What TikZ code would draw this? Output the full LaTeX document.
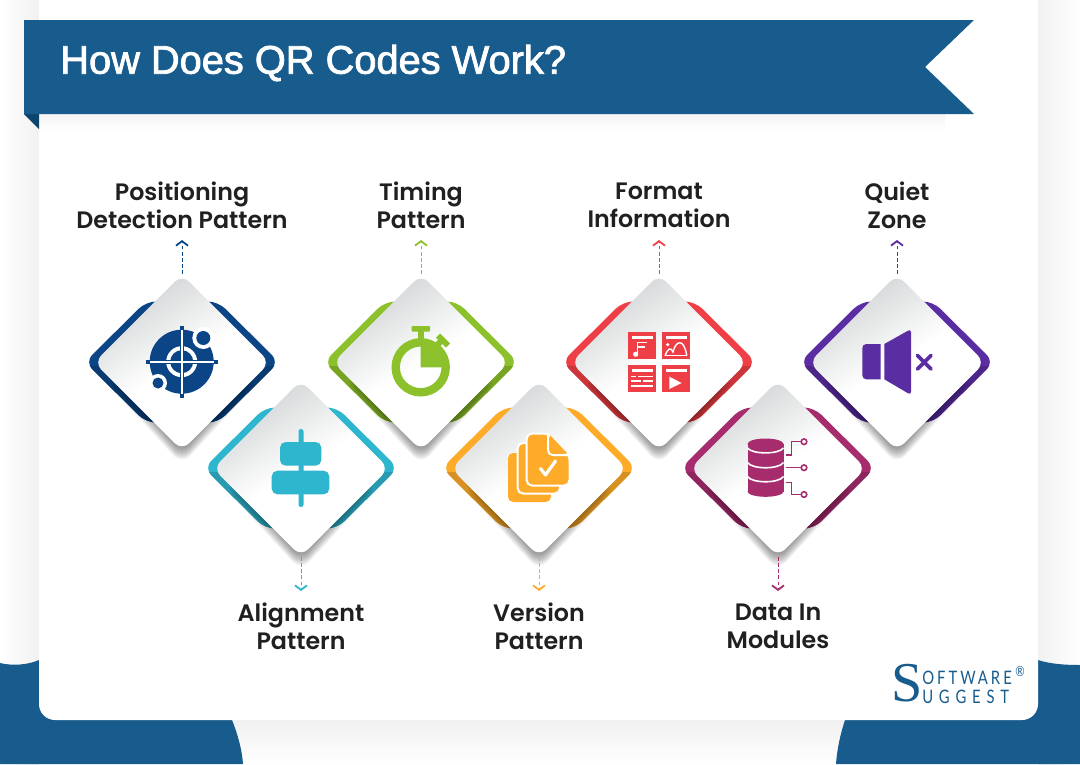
\documentclass[tikz,border=0pt]{standalone}
\usepackage{fontspec}
\setmainfont{Liberation Sans}
\newfontfamily\titlefont[RawFeature={embolden=2}]{Liberation Sans}
\newfontfamily\labelfont{Poppins SemiBold}
\newfontfamily\logotopfont[FakeStretch=0.8, LetterSpace=16]{Lato}
\newfontfamily\logobotfont[FakeStretch=0.8, LetterSpace=31]{Lato}
\newfontfamily\logosfont{Liberation Serif}
\definecolor{bandblue}{RGB}{24, 92, 141}
\definecolor{folddark}{RGB}{13, 68, 110}
\definecolor{posnavy}{RGB}{11, 69, 133}
\definecolor{aligncyan}{RGB}{47, 182, 207}
\definecolor{timegreen}{RGB}{141, 193, 43}
\definecolor{verorange}{RGB}{253, 171, 40}
\definecolor{fmtred}{RGB}{238, 63, 70}
\definecolor{datarose}{RGB}{167, 44, 110}
\definecolor{quietviolet}{RGB}{91, 45, 163}
\definecolor{sidegray}{RGB}{241, 241, 241}
\definecolor{tilegray}{RGB}{208, 211, 212}
\definecolor{textdark}{RGB}{32, 32, 34}
\usetikzlibrary{shapes.geometric, arrows.meta, positioning}

\tikzset{
  qrtile/.style={diamond, shape aspect=1, minimum width=4.4cm, minimum height=4.4cm, inner sep=0pt,
    rounded corners=0.25cm, top color=tilegray, bottom color=white, middle color=white, shading angle=32},
  qrlabel/.style={font=\labelfont\fontsize{16.9}{20.1}\selectfont, text=textdark, align=center, inner sep=0pt,
    execute at begin node=\rule{0pt}{15pt}, execute at end node=\rule[-5pt]{0pt}{0pt}},
  qrlink/.style={dash pattern=on 2.8pt off 1.6pt, line width=0.7pt, -{Straight Barb[length=3.2pt, width=8.5pt, line width=1.3pt]}},
}

\newcommand{\qrhex}{(-97,0) -- (-36,-60.5) -- (36,-60.5) -- (97,0) -- (36,60.5) -- (-36,60.5) -- cycle}
% frame band and soft shadow behind one tile
\newcommand{\qrframe}[3]{
  \begin{scope}[shift={(#1,#2)}]
    \fill[#3, rounded corners=0.25cm] \qrhex;
    \begin{scope}
      \clip (-100,4) rectangle (100,70);
      \fill[#3!85!black, rounded corners=0.25cm] \qrhex;
    \end{scope}
    \foreach \s in {0,...,9}
      \fill[black, opacity=0.045, rounded corners=0.3cm] ({-62-1.6*\s},20) -- (0,{-52-1.2*\s}) -- ({62+1.6*\s},20) -- (0,{92+1.2*\s}) -- cycle;
  \end{scope}
}

\begin{document}
\begin{tikzpicture}[x=0.025cm, y=-0.025cm]
  \useasboundingbox (0,0) rectangle (1080,764);

  % Page and card
  \shade[left color=white, right color=sidegray] (0,0) rectangle (39,764);
  \shade[left color=sidegray, right color=white] (1038,0) rectangle (1080,764);
  \shade[top color=sidegray, bottom color=white] (39,720) rectangle (1038,764);
  \fill[bandblue] (0,663) .. controls (12,666) and (28,665) .. (39,660) -- (60,660) -- (60,720) -- (232,720) .. controls (238,735) and (242,750) .. (243,764) -- (0,764) -- cycle;
  \fill[bandblue] (1038,660) .. controls (1050,664) and (1065,665) .. (1080,665) -- (1080,764) -- (836,764) .. controls (837,750) and (840,735) .. (845,720) -- (1020,720) -- (1020,660) -- cycle;
  \fill[white, rounded corners=0.4cm] (39,-30) rectangle (1038,720);

  % Title band
  \shade[top color=black!4, bottom color=white] (39,114) rectangle (945,132);
  \fill[folddark] (24,114) -- (39,114) -- (39,129) -- cycle;
  \fill[bandblue] (24,20) -- (974,20) -- (925,67) -- (974,114) -- (24,114) -- cycle;
  \node[font=\titlefont\fontsize{28.3}{30}\selectfont, text=white, anchor=west, inner sep=0pt] (title) at (60,63) {How Does QR Codes Work?};

  % Tiles
  \qrframe{182}{362}{posnavy}
  \node[qrtile] (posbox) at (182,362.5) {};
  \qrframe{301}{468}{aligncyan}
  \node[qrtile] (alignbox) at (301,468.5) {};
  \qrframe{421}{362}{timegreen}
  \node[qrtile] (timebox) at (421,362.5) {};
  \qrframe{539}{468}{verorange}
  \node[qrtile] (verbox) at (539,468.5) {};
  \qrframe{659}{362}{fmtred}
  \node[qrtile] (fmtbox) at (659,362.5) {};
  \qrframe{778}{468}{datarose}
  \node[qrtile] (databox) at (778,468.5) {};
  \qrframe{897}{362}{quietviolet}
  \node[qrtile] (quietbox) at (897,362.5) {};

  % Labels
  \node[qrlabel] (poslabel) at (182,209) {Positioning\\Detection Pattern};
  \node[qrlabel] (timelabel) at (421,209) {Timing\\Pattern};
  \node[qrlabel] (fmtlabel) at (659,209) {Format\\Information};
  \node[qrlabel] (quietlabel) at (897,209) {Quiet\\Zone};
  \node[qrlabel] (alignlabel) at (301,630) {Alignment\\Pattern};
  \node[qrlabel] (verlabel) at (539,630) {Version\\Pattern};
  \node[qrlabel] (datalabel) at (778,630) {Data In\\Modules};

  % Dashed links
  \coordinate (posend) at (182,240);
  \coordinate (timeend) at (421,240);
  \coordinate (fmtend) at (659,240);
  \coordinate (quietend) at (897,240);
  \coordinate (alignend) at (301,591);
  \coordinate (verend) at (539,591);
  \coordinate (dataend) at (778,591);
  \draw[qrlink, posnavy] (posbox.north) -- (posend);
  \draw[qrlink, timegreen] (timebox.north) -- (timeend);
  \draw[qrlink, fmtred] (fmtbox.north) -- (fmtend);
  \draw[qrlink, quietviolet] (quietbox.north) -- (quietend);
  \draw[qrlink, aligncyan] (alignbox.south) -- (alignend);
  \draw[qrlink, verorange] (verbox.south) -- (verend);
  \draw[qrlink, datarose] (databox.south) -- (dataend);

  % Positioning icon
  \fill[posnavy] (181.7,361.7) circle (32);
  \fill[white] (203.3,338) circle (11);
  \fill[posnavy] (203.3,338) circle (7);
  \fill[white] (158,383) circle (9);
  \fill[posnavy] (158,383) circle (5.5);
  \fill[white] (181.7,361.7) circle (15.5);
  \fill[posnavy] (181.7,361.7) circle (11.5);
  \fill[posnavy] (145.7,359.7) rectangle (217.7,363.7);
  \fill[posnavy] (179.7,325.7) rectangle (183.7,397.7);
  \fill[white] (149.7,360.5) rectangle (213.7,362.9);
  \fill[white] (180.5,329.7) rectangle (182.9,393.7);

  % Alignment icon
  \fill[aligncyan, rounded corners=0.06cm] (298.5,429) rectangle (303.5,507);
  \fill[aligncyan, rounded corners=0.14cm] (280,442) rectangle (321.3,465.7);
  \fill[aligncyan, rounded corners=0.14cm] (271.7,470.7) rectangle (329.3,494.3);

  % Timing icon
  \draw[timegreen, line width=0.21cm] (420.7,367.3) circle (25);
  \fill[timegreen] (420.7,367.3) -- (420.7,342.3) arc[start angle=-90, delta angle=90, radius=25] -- cycle;
  \fill[timegreen] (417.7,328) rectangle (423.7,340);
  \fill[timegreen, rounded corners=0.02cm] (411.7,326) rectangle (430,331.5);
  \draw[timegreen, line width=0.15cm] (434,348) -- (441,341);
  \draw[timegreen, line width=0.15cm] (438,335.5) -- (448,345.5);

  % Version icon
  \fill[verorange, rounded corners=0.13cm] (508,453) rectangle (551,502);
  \filldraw[verorange, draw=white, line width=0.05cm, rounded corners=0.13cm] (517.7,443) rectangle (560,493.5);
  \filldraw[verorange, draw=white, line width=0.05cm, rounded corners=0.13cm] (526.7,433.5) -- (548,433.5) -- (569.5,455) -- (569.5,485.5) -- (526.7,485.5) -- cycle;
  \draw[white, line width=0.05cm, rounded corners=0.12cm] (548,433) -- (548,455) -- (570,455);
  \fill[verorange] (550,435) -- (567,453) -- (550,453) -- cycle;
  \draw[white, line width=0.08cm, line cap=round, line join=round] (540.5,468.5) -- (545.5,475) -- (555.5,461);

  % Format icon
  \fill[fmtred] (628.3,331.7) rectangle (656,359);
  \fill[fmtred] (662.3,331.7) rectangle (689.7,359);
  \fill[fmtred] (628.3,365) rectangle (656,392.3);
  \fill[fmtred] (662.3,365) rectangle (689.7,392.3);
  \fill[white] (631.7,335.7) rectangle (652.7,338.5);
  \fill[white] (665.5,335.7) rectangle (686.5,338.5);
  \fill[white] (631.7,369) rectangle (652.7,371.8);
  \fill[white] (665.5,369) rectangle (686.5,371.8);
  \fill[white] (635.7,354.2) circle (2.6);
  \draw[white, line width=0.04cm] (637.6,354) -- (637.6,342.5) -- (647,342.5);
  \draw[white, line width=0.04cm] (637.6,347) -- (645,347);
  \fill[white] (667.7,344.6) circle (1.8);
  \draw[white, line width=0.03cm] (665,355.8) -- (686.8,355.8);
  \draw[white, line width=0.035cm] (665,355.8) .. controls (668,348) and (671,347) .. (673,352) .. controls (676,340) and (684,338) .. (686.8,355.8);
  \fill[white] (631.2,375.5) rectangle (653.2,377);
  \fill[white] (631.2,380.3) rectangle (653.2,381.8);
  \fill[white] (631.2,385.2) rectangle (653.2,386.7);
  \fill[fmtred] (636,375) rectangle (638,377.5);
  \fill[fmtred] (641,379.8) rectangle (643,382.3);
  \fill[white] (669.3,376.7) -- (681.7,383) -- (669.3,389) -- cycle;

  % Data icon
  \fill[datarose] (747.5,444) rectangle (783.5,491.5);
  \fill[datarose] (765.5,444) ellipse (18 and 5.5);
  \fill[datarose] (765.5,491.5) ellipse (18 and 5.3);
  \draw[white, line width=0.04cm] (747.5,448) .. controls (752,454.5) and (779,454.5) .. (783.5,448);
  \draw[white, line width=0.04cm] (747.5,462.5) .. controls (752,469.5) and (779,469.5) .. (783.5,462.5);
  \draw[white, line width=0.04cm] (747.5,476.5) .. controls (752,483.5) and (779,483.5) .. (783.5,476.5);
  \draw[datarose, line width=0.035cm] (785.7,455) -- (791.7,455) -- (791.7,441.7) -- (801,441.7);
  \draw[datarose, line width=0.035cm] (785.7,467.7) -- (801,467.7);
  \draw[datarose, line width=0.035cm] (785.7,482.3) -- (791.7,482.3) -- (791.7,494.5) -- (801,494.5);
  \filldraw[fill=white, draw=datarose, line width=0.04cm] (804,441.7) circle (2.8);
  \filldraw[fill=white, draw=datarose, line width=0.04cm] (804,467.7) circle (2.8);
  \filldraw[fill=white, draw=datarose, line width=0.04cm] (804,494.5) circle (2.8);

  % Quiet icon
  \fill[quietviolet] (880.7,344) [rounded corners=0.1cm] -- (862.3,344) -- (862.3,379.3) [sharp corners] -- (880.7,379.3) -- cycle;
  \fill[quietviolet] (884.3,344) [rounded corners=0.08cm] -- (911,329) -- (911,395) [sharp corners] -- (884.3,379.3) -- cycle;
  \draw[quietviolet, line width=0.095cm, line cap=round] (917.5,355.5) -- (931,369);
  \draw[quietviolet, line width=0.095cm, line cap=round] (931,355.5) -- (917.5,369);

  % Logo
  \node[font=\logosfont\fontsize{40}{40}\selectfont, text=bandblue, inner sep=0pt] (logos) at (907.5,683.5) {S};
  \node[font=\logotopfont\fontsize{13.2}{14}\selectfont, text=bandblue, anchor=west, inner sep=0pt] (logotop) at (922,677.5) {OFTWARE};
  \node[font=\logobotfont\fontsize{13.2}{14}\selectfont, text=bandblue, anchor=west, inner sep=0pt] (logobottom) at (922,696.5) {UGGEST};
  \node[font=\logotopfont\fontsize{10}{10}\selectfont, text=bandblue, inner sep=0pt] (logoreg) at (1020,671.5) {®};
\end{tikzpicture}
\end{document}
